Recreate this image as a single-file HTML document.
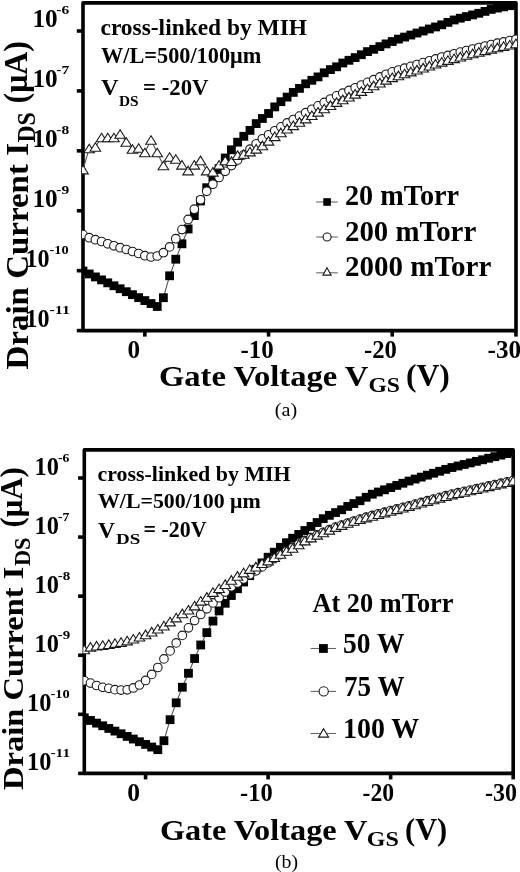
<!DOCTYPE html><html><head><meta charset="utf-8"><title>Drain current vs gate voltage</title><style>html,body{margin:0;padding:0;background:#fff;}svg{display:block;}</style></head><body><svg width="520" height="872" viewBox="0 0 520 872" font-family="'Liberation Serif','Times New Roman',serif"><defs><clipPath id="ca"><rect x="82.0" y="1.9" width="435.0" height="329.70000000000005"/></clipPath><clipPath id="cb"><rect x="83.3" y="448.9" width="430.90000000000003" height="325.5"/></clipPath></defs><rect width="520" height="872" fill="#fff"/><path d="M83 2.9H516V330.6H83Z" fill="none" stroke="#000" stroke-width="3.6" stroke-linejoin="round"/><line x1="76.8" y1="31" x2="83" y2="31" stroke="#000" stroke-width="3.6"/><line x1="76.8" y1="90.92" x2="83" y2="90.92" stroke="#000" stroke-width="3.6"/><line x1="76.8" y1="150.84" x2="83" y2="150.84" stroke="#000" stroke-width="3.6"/><line x1="76.8" y1="210.76" x2="83" y2="210.76" stroke="#000" stroke-width="3.6"/><line x1="76.8" y1="270.68" x2="83" y2="270.68" stroke="#000" stroke-width="3.6"/><line x1="76.8" y1="330.6" x2="83" y2="330.6" stroke="#000" stroke-width="3.6"/><line x1="144.85" y1="330.6" x2="144.85" y2="336.6" stroke="#000" stroke-width="3.6"/><line x1="268.55" y1="330.6" x2="268.55" y2="336.6" stroke="#000" stroke-width="3.6"/><line x1="392.25" y1="330.6" x2="392.25" y2="336.6" stroke="#000" stroke-width="3.6"/><line x1="515.95" y1="330.6" x2="515.95" y2="336.6" stroke="#000" stroke-width="3.6"/><g clip-path="url(#ca)"><polyline points="83,271 89.19,273.96 95.37,276.92 101.56,279.88 107.74,282.83 113.92,285.79 120.11,288.75 126.29,291.71 132.48,294.67 138.66,297.62 144.85,300.58 151.03,303.54 157.22,306.5 163.41,297.7 169.59,275.8 175.77,259.2 181.96,243.8 188.14,229 194.33,215.6 200.51,201 206.7,187.7 212.88,177.3 219.07,168.6 225.25,158 231.44,149.8 237.62,142.2 243.81,136.3 249.99,130.4 256.18,123.6 262.37,118.5 268.55,113.5 274.74,106.9 280.92,101.7 287.11,97.1 293.29,92.4 299.48,88.4 305.66,83.8 311.85,80.3 318.03,76.9 324.21,72.8 330.4,69.6 336.58,66.8 342.77,63 348.95,60.3 355.14,57.6 361.32,54.7 367.51,51.6 373.69,49.3 379.88,46.6 386.06,43.9 392.25,41.5 398.44,39.1 404.62,37.08 410.81,35.05 416.99,33.03 423.17,31 429.36,28.98 435.54,26.96 441.73,24.82 447.91,22.4 454.1,19.98 460.28,18.19 466.47,16.56 472.65,14.93 478.84,13.29 485.02,11.38 491.21,9.4 497.39,8.05 503.58,6.87 509.76,5.68 515.95,4.5" fill="none" stroke="#555" stroke-width="1.1"/><polyline points="83,234.6 89.19,237.7 95.37,239.7 101.56,241.5 107.74,243.8 113.92,245.8 120.11,247.7 126.29,249.5 132.48,251.5 138.66,253.5 144.85,255.7 151.03,257 157.22,256 163.41,252.7 169.59,246.9 175.77,238.7 181.96,229.6 188.14,219.4 194.33,209.2 200.51,199.8 206.7,191.3 212.88,184.2 219.07,177.5 225.25,171.3 231.44,165.6 237.62,160 243.81,154.8 249.99,149.2 256.18,143.8 262.37,138.8 268.55,134.8 274.74,130.77 280.92,126.84 287.11,122.96 293.29,119.53 299.48,116.11 305.66,112.68 311.85,109.26 318.03,105.84 324.21,102.41 330.4,98.99 336.58,95.86 342.77,93.16 348.95,90.46 355.14,87.75 361.32,85.05 367.51,82.34 373.69,79.64 379.88,76.93 386.06,74.23 392.25,71.84 398.44,70 404.62,68.17 410.81,66.33 416.99,64.5 423.17,62.62 429.36,60.75 435.54,58.88 441.73,57 447.91,55.38 454.1,53.75 460.28,52.12 466.47,50.5 472.65,49 478.84,47.5 485.02,46 491.21,44.5 497.39,43.2 503.58,41.9 509.76,40.6 515.95,39.3" fill="none" stroke="#555" stroke-width="1.1"/><polyline points="83,169.6 89.19,148.5 95.37,147 101.56,137.5 107.74,137.5 113.92,137.5 120.11,134 126.29,142 132.48,149 138.66,148 144.85,152.5 151.03,140 157.22,152.5 163.41,165.5 169.59,157 175.77,159 181.96,164.8 188.14,170.6 194.33,164.8 200.51,160.4 206.7,170.6 212.88,171.8 219.07,164.8 225.25,160.5 231.44,161.2 237.62,155.2 243.81,154 249.99,151.6 256.18,148.8 262.37,145.4 268.55,140.8 274.74,136.34 280.92,132.47 287.11,128.66 293.29,125.3 299.48,121.94 305.66,118.58 311.85,115.23 318.03,111.87 324.21,108.51 330.4,105.15 336.58,102.1 342.77,99.46 348.95,96.66 355.14,93.85 361.32,91.05 367.51,88.24 373.69,85.44 379.88,82.63 386.06,79.83 392.25,77.34 398.44,75.41 404.62,73.49 410.81,71.56 416.99,69.64 423.17,67.67 429.36,65.71 435.54,63.74 441.73,61.78 447.91,60.06 454.1,58.35 460.28,56.67 466.47,55 472.65,53.45 478.84,51.9 485.02,50.35 491.21,48.8 497.39,47.45 503.58,46.1 509.76,44.75 515.95,43.4" fill="none" stroke="#555" stroke-width="1.1"/><g fill="#000"><rect x="78.6" y="266.6" width="8.8" height="8.8"/><rect x="84.78" y="269.56" width="8.8" height="8.8"/><rect x="90.97" y="272.52" width="8.8" height="8.8"/><rect x="97.16" y="275.48" width="8.8" height="8.8"/><rect x="103.34" y="278.43" width="8.8" height="8.8"/><rect x="109.52" y="281.39" width="8.8" height="8.8"/><rect x="115.71" y="284.35" width="8.8" height="8.8"/><rect x="121.89" y="287.31" width="8.8" height="8.8"/><rect x="128.08" y="290.27" width="8.8" height="8.8"/><rect x="134.26" y="293.23" width="8.8" height="8.8"/><rect x="140.45" y="296.18" width="8.8" height="8.8"/><rect x="146.63" y="299.14" width="8.8" height="8.8"/><rect x="152.82" y="302.1" width="8.8" height="8.8"/><rect x="159" y="293.3" width="8.8" height="8.8"/><rect x="165.19" y="271.4" width="8.8" height="8.8"/><rect x="171.37" y="254.8" width="8.8" height="8.8"/><rect x="177.56" y="239.4" width="8.8" height="8.8"/><rect x="183.74" y="224.6" width="8.8" height="8.8"/><rect x="189.93" y="211.2" width="8.8" height="8.8"/><rect x="196.11" y="196.6" width="8.8" height="8.8"/><rect x="202.3" y="183.3" width="8.8" height="8.8"/><rect x="208.48" y="172.9" width="8.8" height="8.8"/><rect x="214.67" y="164.2" width="8.8" height="8.8"/><rect x="220.85" y="153.6" width="8.8" height="8.8"/><rect x="227.04" y="145.4" width="8.8" height="8.8"/><rect x="233.22" y="137.8" width="8.8" height="8.8"/><rect x="239.41" y="131.9" width="8.8" height="8.8"/><rect x="245.59" y="126" width="8.8" height="8.8"/><rect x="251.78" y="119.2" width="8.8" height="8.8"/><rect x="257.97" y="114.1" width="8.8" height="8.8"/><rect x="264.15" y="109.1" width="8.8" height="8.8"/><rect x="270.34" y="102.5" width="8.8" height="8.8"/><rect x="276.52" y="97.3" width="8.8" height="8.8"/><rect x="282.71" y="92.7" width="8.8" height="8.8"/><rect x="288.89" y="88" width="8.8" height="8.8"/><rect x="295.08" y="84" width="8.8" height="8.8"/><rect x="301.26" y="79.4" width="8.8" height="8.8"/><rect x="307.45" y="75.9" width="8.8" height="8.8"/><rect x="313.63" y="72.5" width="8.8" height="8.8"/><rect x="319.81" y="68.4" width="8.8" height="8.8"/><rect x="326" y="65.2" width="8.8" height="8.8"/><rect x="332.19" y="62.4" width="8.8" height="8.8"/><rect x="338.37" y="58.6" width="8.8" height="8.8"/><rect x="344.56" y="55.9" width="8.8" height="8.8"/><rect x="350.74" y="53.2" width="8.8" height="8.8"/><rect x="356.93" y="50.3" width="8.8" height="8.8"/><rect x="363.11" y="47.2" width="8.8" height="8.8"/><rect x="369.3" y="44.9" width="8.8" height="8.8"/><rect x="375.48" y="42.2" width="8.8" height="8.8"/><rect x="381.67" y="39.5" width="8.8" height="8.8"/><rect x="387.85" y="37.1" width="8.8" height="8.8"/><rect x="394.04" y="34.7" width="8.8" height="8.8"/><rect x="400.22" y="32.68" width="8.8" height="8.8"/><rect x="406.41" y="30.65" width="8.8" height="8.8"/><rect x="412.59" y="28.63" width="8.8" height="8.8"/><rect x="418.77" y="26.6" width="8.8" height="8.8"/><rect x="424.96" y="24.58" width="8.8" height="8.8"/><rect x="431.14" y="22.56" width="8.8" height="8.8"/><rect x="437.33" y="20.42" width="8.8" height="8.8"/><rect x="443.51" y="18" width="8.8" height="8.8"/><rect x="449.7" y="15.58" width="8.8" height="8.8"/><rect x="455.88" y="13.79" width="8.8" height="8.8"/><rect x="462.07" y="12.16" width="8.8" height="8.8"/><rect x="468.25" y="10.53" width="8.8" height="8.8"/><rect x="474.44" y="8.89" width="8.8" height="8.8"/><rect x="480.62" y="6.98" width="8.8" height="8.8"/><rect x="486.81" y="5" width="8.8" height="8.8"/><rect x="493" y="3.65" width="8.8" height="8.8"/><rect x="499.18" y="2.47" width="8.8" height="8.8"/><rect x="505.37" y="1.28" width="8.8" height="8.8"/><rect x="511.55" y="0.1" width="8.8" height="8.8"/></g><g fill="#fff" stroke="#1a1a1a" stroke-width="1.1"><circle cx="83" cy="234.6" r="4.3"/><circle cx="89.19" cy="237.7" r="4.3"/><circle cx="95.37" cy="239.7" r="4.3"/><circle cx="101.56" cy="241.5" r="4.3"/><circle cx="107.74" cy="243.8" r="4.3"/><circle cx="113.92" cy="245.8" r="4.3"/><circle cx="120.11" cy="247.7" r="4.3"/><circle cx="126.29" cy="249.5" r="4.3"/><circle cx="132.48" cy="251.5" r="4.3"/><circle cx="138.66" cy="253.5" r="4.3"/><circle cx="144.85" cy="255.7" r="4.3"/><circle cx="151.03" cy="257" r="4.3"/><circle cx="157.22" cy="256" r="4.3"/><circle cx="163.41" cy="252.7" r="4.3"/><circle cx="169.59" cy="246.9" r="4.3"/><circle cx="175.77" cy="238.7" r="4.3"/><circle cx="181.96" cy="229.6" r="4.3"/><circle cx="188.14" cy="219.4" r="4.3"/><circle cx="194.33" cy="209.2" r="4.3"/><circle cx="200.51" cy="199.8" r="4.3"/><circle cx="206.7" cy="191.3" r="4.3"/><circle cx="212.88" cy="184.2" r="4.3"/><circle cx="219.07" cy="177.5" r="4.3"/><circle cx="225.25" cy="171.3" r="4.3"/><circle cx="231.44" cy="165.6" r="4.3"/><circle cx="237.62" cy="160" r="4.3"/><circle cx="243.81" cy="154.8" r="4.3"/><circle cx="249.99" cy="149.2" r="4.3"/><circle cx="256.18" cy="143.8" r="4.3"/><circle cx="262.37" cy="138.8" r="4.3"/><circle cx="268.55" cy="134.8" r="4.3"/><circle cx="274.74" cy="130.77" r="4.3"/><circle cx="280.92" cy="126.84" r="4.3"/><circle cx="287.11" cy="122.96" r="4.3"/><circle cx="293.29" cy="119.53" r="4.3"/><circle cx="299.48" cy="116.11" r="4.3"/><circle cx="305.66" cy="112.68" r="4.3"/><circle cx="311.85" cy="109.26" r="4.3"/><circle cx="318.03" cy="105.84" r="4.3"/><circle cx="324.21" cy="102.41" r="4.3"/><circle cx="330.4" cy="98.99" r="4.3"/><circle cx="336.58" cy="95.86" r="4.3"/><circle cx="342.77" cy="93.16" r="4.3"/><circle cx="348.95" cy="90.46" r="4.3"/><circle cx="355.14" cy="87.75" r="4.3"/><circle cx="361.32" cy="85.05" r="4.3"/><circle cx="367.51" cy="82.34" r="4.3"/><circle cx="373.69" cy="79.64" r="4.3"/><circle cx="379.88" cy="76.93" r="4.3"/><circle cx="386.06" cy="74.23" r="4.3"/><circle cx="392.25" cy="71.84" r="4.3"/><circle cx="398.44" cy="70" r="4.3"/><circle cx="404.62" cy="68.17" r="4.3"/><circle cx="410.81" cy="66.33" r="4.3"/><circle cx="416.99" cy="64.5" r="4.3"/><circle cx="423.17" cy="62.62" r="4.3"/><circle cx="429.36" cy="60.75" r="4.3"/><circle cx="435.54" cy="58.88" r="4.3"/><circle cx="441.73" cy="57" r="4.3"/><circle cx="447.91" cy="55.38" r="4.3"/><circle cx="454.1" cy="53.75" r="4.3"/><circle cx="460.28" cy="52.12" r="4.3"/><circle cx="466.47" cy="50.5" r="4.3"/><circle cx="472.65" cy="49" r="4.3"/><circle cx="478.84" cy="47.5" r="4.3"/><circle cx="485.02" cy="46" r="4.3"/><circle cx="491.21" cy="44.5" r="4.3"/><circle cx="497.39" cy="43.2" r="4.3"/><circle cx="503.58" cy="41.9" r="4.3"/><circle cx="509.76" cy="40.6" r="4.3"/><circle cx="515.95" cy="39.3" r="4.3"/></g><g fill="#fff" stroke="#1a1a1a" stroke-width="1.1" stroke-linejoin="miter"><path d="M83 165.3L88.3 173.9L77.7 173.9Z"/><path d="M89.19 144.2L94.48 152.8L83.89 152.8Z"/><path d="M95.37 142.7L100.67 151.3L90.07 151.3Z"/><path d="M101.56 133.2L106.86 141.8L96.26 141.8Z"/><path d="M107.74 133.2L113.04 141.8L102.44 141.8Z"/><path d="M113.92 133.2L119.22 141.8L108.62 141.8Z"/><path d="M120.11 129.7L125.41 138.3L114.81 138.3Z"/><path d="M126.29 137.7L131.59 146.3L120.99 146.3Z"/><path d="M132.48 144.7L137.78 153.3L127.18 153.3Z"/><path d="M138.66 143.7L143.97 152.3L133.36 152.3Z"/><path d="M144.85 148.2L150.15 156.8L139.55 156.8Z"/><path d="M151.03 135.7L156.34 144.3L145.73 144.3Z"/><path d="M157.22 148.2L162.52 156.8L151.92 156.8Z"/><path d="M163.41 161.2L168.71 169.8L158.1 169.8Z"/><path d="M169.59 152.7L174.89 161.3L164.29 161.3Z"/><path d="M175.77 154.7L181.07 163.3L170.47 163.3Z"/><path d="M181.96 160.5L187.26 169.1L176.66 169.1Z"/><path d="M188.14 166.3L193.44 174.9L182.84 174.9Z"/><path d="M194.33 160.5L199.63 169.1L189.03 169.1Z"/><path d="M200.51 156.1L205.81 164.7L195.21 164.7Z"/><path d="M206.7 166.3L212 174.9L201.4 174.9Z"/><path d="M212.88 167.5L218.19 176.1L207.58 176.1Z"/><path d="M219.07 160.5L224.37 169.1L213.77 169.1Z"/><path d="M225.25 156.2L230.56 164.8L219.95 164.8Z"/><path d="M231.44 156.9L236.74 165.5L226.14 165.5Z"/><path d="M237.62 150.9L242.93 159.5L232.32 159.5Z"/><path d="M243.81 149.7L249.11 158.3L238.51 158.3Z"/><path d="M249.99 147.3L255.29 155.9L244.69 155.9Z"/><path d="M256.18 144.5L261.48 153.1L250.88 153.1Z"/><path d="M262.37 141.1L267.67 149.7L257.06 149.7Z"/><path d="M268.55 136.5L273.85 145.1L263.25 145.1Z"/><path d="M274.74 132.04L280.04 140.64L269.44 140.64Z"/><path d="M280.92 128.17L286.22 136.77L275.62 136.77Z"/><path d="M287.11 124.36L292.41 132.96L281.81 132.96Z"/><path d="M293.29 121L298.59 129.6L287.99 129.6Z"/><path d="M299.48 117.64L304.78 126.24L294.18 126.24Z"/><path d="M305.66 114.28L310.96 122.88L300.36 122.88Z"/><path d="M311.85 110.93L317.15 119.53L306.55 119.53Z"/><path d="M318.03 107.57L323.33 116.17L312.73 116.17Z"/><path d="M324.21 104.21L329.51 112.81L318.91 112.81Z"/><path d="M330.4 100.85L335.7 109.45L325.1 109.45Z"/><path d="M336.58 97.8L341.88 106.4L331.28 106.4Z"/><path d="M342.77 95.16L348.07 103.76L337.47 103.76Z"/><path d="M348.95 92.36L354.25 100.96L343.65 100.96Z"/><path d="M355.14 89.55L360.44 98.15L349.84 98.15Z"/><path d="M361.32 86.75L366.62 95.35L356.02 95.35Z"/><path d="M367.51 83.94L372.81 92.54L362.21 92.54Z"/><path d="M373.69 81.14L379 89.74L368.39 89.74Z"/><path d="M379.88 78.33L385.18 86.93L374.58 86.93Z"/><path d="M386.06 75.53L391.37 84.13L380.76 84.13Z"/><path d="M392.25 73.04L397.55 81.64L386.95 81.64Z"/><path d="M398.44 71.11L403.74 79.71L393.13 79.71Z"/><path d="M404.62 69.19L409.92 77.79L399.32 77.79Z"/><path d="M410.81 67.26L416.11 75.86L405.5 75.86Z"/><path d="M416.99 65.34L422.29 73.94L411.69 73.94Z"/><path d="M423.17 63.38L428.47 71.97L417.87 71.97Z"/><path d="M429.36 61.41L434.66 70.01L424.06 70.01Z"/><path d="M435.54 59.45L440.84 68.05L430.24 68.05Z"/><path d="M441.73 57.48L447.03 66.08L436.43 66.08Z"/><path d="M447.91 55.77L453.21 64.36L442.61 64.36Z"/><path d="M454.1 54.05L459.4 62.65L448.8 62.65Z"/><path d="M460.28 52.38L465.58 60.97L454.98 60.97Z"/><path d="M466.47 50.7L471.77 59.3L461.17 59.3Z"/><path d="M472.65 49.15L477.95 57.75L467.35 57.75Z"/><path d="M478.84 47.6L484.14 56.2L473.54 56.2Z"/><path d="M485.02 46.05L490.32 54.65L479.72 54.65Z"/><path d="M491.21 44.5L496.51 53.1L485.91 53.1Z"/><path d="M497.39 43.15L502.69 51.75L492.09 51.75Z"/><path d="M503.58 41.8L508.88 50.4L498.28 50.4Z"/><path d="M509.76 40.45L515.06 49.05L504.46 49.05Z"/><path d="M515.95 39.1L521.25 47.7L510.65 47.7Z"/></g></g><line x1="316.2" y1="202" x2="337.8" y2="202" stroke="#666" stroke-width="1.1"/><rect x="323.3" y="198.2" width="7.6" height="7.6" fill="#000"/><line x1="316.2" y1="237" x2="337.8" y2="237" stroke="#666" stroke-width="1.1"/><circle cx="327.1" cy="237" r="4" fill="#fff" stroke="#1a1a1a" stroke-width="1.1"/><line x1="316.2" y1="272.8" x2="337.8" y2="272.8" stroke="#666" stroke-width="1.1"/><path d="M327 267.65L331.1 275.15L322.9 275.15Z" fill="#fff" stroke="#1a1a1a" stroke-width="1.1"/><path d="M84.3 449.9H513.2V773.4H84.3Z" fill="none" stroke="#000" stroke-width="3.6" stroke-linejoin="round"/><line x1="78.1" y1="478" x2="84.3" y2="478" stroke="#000" stroke-width="3.6"/><line x1="78.1" y1="537.08" x2="84.3" y2="537.08" stroke="#000" stroke-width="3.6"/><line x1="78.1" y1="596.16" x2="84.3" y2="596.16" stroke="#000" stroke-width="3.6"/><line x1="78.1" y1="655.24" x2="84.3" y2="655.24" stroke="#000" stroke-width="3.6"/><line x1="78.1" y1="714.32" x2="84.3" y2="714.32" stroke="#000" stroke-width="3.6"/><line x1="78.1" y1="773.4" x2="84.3" y2="773.4" stroke="#000" stroke-width="3.6"/><line x1="145.57" y1="773.4" x2="145.57" y2="779.4" stroke="#000" stroke-width="3.6"/><line x1="268.11" y1="773.4" x2="268.11" y2="779.4" stroke="#000" stroke-width="3.6"/><line x1="390.65" y1="773.4" x2="390.65" y2="779.4" stroke="#000" stroke-width="3.6"/><line x1="513.19" y1="773.4" x2="513.19" y2="779.4" stroke="#000" stroke-width="3.6"/><g clip-path="url(#cb)"><polyline points="84.3,717.8 90.43,720.46 96.55,723.12 102.68,725.78 108.81,728.44 114.94,731.1 121.06,733.76 127.19,736.41 133.32,739.07 139.44,741.73 145.57,744.39 151.7,747.05 157.82,749.67 163.95,740.72 170.08,719.68 176.2,702.79 182.33,687.23 188.46,673.26 194.59,658.53 200.71,644.97 206.84,632.62 212.97,621.09 219.09,610.88 225.22,603.27 231.35,595.55 237.47,588.72 243.6,581.99 249.73,575.63 255.86,569.27 261.98,562.92 268.11,557.22 274.24,552.21 280.36,547.3 286.49,542.69 292.62,538.22 298.75,534.45 304.87,530.52 311,526.45 317.13,522.53 323.25,518.66 329.38,515.31 335.51,512.59 341.63,509.77 347.76,506.45 353.89,503.57 360.01,500.75 366.14,497.27 372.27,494.19 378.4,492 384.52,489.81 390.65,487.62 396.78,485.43 402.9,483.24 409.03,481.05 415.16,479.06 421.29,477.12 427.41,475.17 433.54,473.23 439.67,471.28 445.79,469.34 451.92,467.52 458.05,465.99 464.17,464.46 470.3,462.91 476.43,461.35 482.56,459.79 488.68,458.23 494.81,456.68 500.94,455.12 507.06,453.56 513.19,452" fill="none" stroke="#555" stroke-width="1.1"/><polyline points="84.3,680.8 90.43,683.11 96.55,685.51 102.68,687.34 108.81,688.34 114.94,689.66 121.06,690.1 127.19,689.83 133.32,687.95 139.44,685.02 145.57,680.46 151.7,674.44 157.82,667.5 163.95,658.91 170.08,650.88 176.2,642.93 182.33,635.39 188.46,627.81 194.59,620.61 200.71,614.51 206.84,608.86 212.97,602.91 219.09,597.77 225.22,592.09 231.35,586.71 237.47,582.89 243.6,578.95 249.73,574.71 255.86,570.86 261.98,566.92 268.11,562.74 274.24,558.57 280.36,554.64 286.49,551.11 292.62,547.57 298.75,544.04 304.87,540.61 311,537.55 317.13,534.89 323.25,532.26 329.38,529.64 335.51,527.1 341.63,525.07 347.76,523.03 353.89,521 360.01,519.08 366.14,517.19 372.27,515.4 378.4,513.8 384.52,512.19 390.65,510.58 396.78,508.97 402.9,507.36 409.03,505.75 415.16,504.08 421.29,502.4 427.41,500.71 433.54,499.03 439.67,497.34 445.79,495.66 451.92,494.07 458.05,492.72 464.17,491.36 470.3,490 476.43,488.65 482.56,487.29 488.68,485.93 494.81,484.57 500.94,483.22 507.06,481.86 513.19,480.5" fill="none" stroke="#555" stroke-width="1.1"/><polyline points="84.3,649.4 90.43,646.84 96.55,645.69 102.68,645.04 108.81,644.16 114.94,643.08 121.06,642.03 127.19,640.61 133.32,638.77 139.44,636.74 145.57,634.39 151.7,631.71 157.82,628.76 163.95,625.63 170.08,621.58 176.2,617.56 182.33,613.42 188.46,609.76 194.59,605.58 200.71,600.86 206.84,596.96 212.97,592.05 219.09,588.27 225.22,584.15 231.35,579.9 237.47,575.9 243.6,572.54 249.73,569.05 255.86,566.67 261.98,563.27 268.11,560.58 274.24,557.16 280.36,554.01 286.49,550.96 292.62,548.01 298.75,544.49 304.87,540.61 311,537.55 317.13,534.87 323.25,532.39 329.38,529.84 335.51,527.1 341.63,525.06 347.76,523.01 353.89,521 360.01,519.24 366.14,517.56 372.27,515.89 378.4,514.25 384.52,512.62 390.65,510.98 396.78,509.34 402.9,507.7 409.03,506.06 415.16,504.41 421.29,502.75 427.41,501.1 433.54,499.44 439.67,497.79 445.79,496.14 451.92,494.58 458.05,493.24 464.17,491.9 470.3,490.52 476.43,489.14 482.56,487.75 488.68,486.36 494.81,484.97 500.94,483.58 507.06,482.19 513.19,480.8" fill="none" stroke="#555" stroke-width="1.1"/><g fill="#000"><rect x="79.9" y="713.4" width="8.8" height="8.8"/><rect x="86.03" y="716.06" width="8.8" height="8.8"/><rect x="92.15" y="718.72" width="8.8" height="8.8"/><rect x="98.28" y="721.38" width="8.8" height="8.8"/><rect x="104.41" y="724.04" width="8.8" height="8.8"/><rect x="110.53" y="726.7" width="8.8" height="8.8"/><rect x="116.66" y="729.36" width="8.8" height="8.8"/><rect x="122.79" y="732.01" width="8.8" height="8.8"/><rect x="128.92" y="734.67" width="8.8" height="8.8"/><rect x="135.04" y="737.33" width="8.8" height="8.8"/><rect x="141.17" y="739.99" width="8.8" height="8.8"/><rect x="147.3" y="742.65" width="8.8" height="8.8"/><rect x="153.42" y="745.27" width="8.8" height="8.8"/><rect x="159.55" y="736.32" width="8.8" height="8.8"/><rect x="165.68" y="715.28" width="8.8" height="8.8"/><rect x="171.8" y="698.39" width="8.8" height="8.8"/><rect x="177.93" y="682.83" width="8.8" height="8.8"/><rect x="184.06" y="668.86" width="8.8" height="8.8"/><rect x="190.19" y="654.13" width="8.8" height="8.8"/><rect x="196.31" y="640.57" width="8.8" height="8.8"/><rect x="202.44" y="628.22" width="8.8" height="8.8"/><rect x="208.57" y="616.69" width="8.8" height="8.8"/><rect x="214.69" y="606.48" width="8.8" height="8.8"/><rect x="220.82" y="598.87" width="8.8" height="8.8"/><rect x="226.95" y="591.15" width="8.8" height="8.8"/><rect x="233.07" y="584.32" width="8.8" height="8.8"/><rect x="239.2" y="577.59" width="8.8" height="8.8"/><rect x="245.33" y="571.23" width="8.8" height="8.8"/><rect x="251.46" y="564.87" width="8.8" height="8.8"/><rect x="257.58" y="558.52" width="8.8" height="8.8"/><rect x="263.71" y="552.82" width="8.8" height="8.8"/><rect x="269.84" y="547.81" width="8.8" height="8.8"/><rect x="275.96" y="542.9" width="8.8" height="8.8"/><rect x="282.09" y="538.29" width="8.8" height="8.8"/><rect x="288.22" y="533.82" width="8.8" height="8.8"/><rect x="294.35" y="530.05" width="8.8" height="8.8"/><rect x="300.47" y="526.12" width="8.8" height="8.8"/><rect x="306.6" y="522.05" width="8.8" height="8.8"/><rect x="312.73" y="518.13" width="8.8" height="8.8"/><rect x="318.85" y="514.26" width="8.8" height="8.8"/><rect x="324.98" y="510.91" width="8.8" height="8.8"/><rect x="331.11" y="508.19" width="8.8" height="8.8"/><rect x="337.23" y="505.37" width="8.8" height="8.8"/><rect x="343.36" y="502.05" width="8.8" height="8.8"/><rect x="349.49" y="499.17" width="8.8" height="8.8"/><rect x="355.62" y="496.35" width="8.8" height="8.8"/><rect x="361.74" y="492.87" width="8.8" height="8.8"/><rect x="367.87" y="489.79" width="8.8" height="8.8"/><rect x="374" y="487.6" width="8.8" height="8.8"/><rect x="380.12" y="485.41" width="8.8" height="8.8"/><rect x="386.25" y="483.22" width="8.8" height="8.8"/><rect x="392.38" y="481.03" width="8.8" height="8.8"/><rect x="398.5" y="478.84" width="8.8" height="8.8"/><rect x="404.63" y="476.65" width="8.8" height="8.8"/><rect x="410.76" y="474.66" width="8.8" height="8.8"/><rect x="416.89" y="472.72" width="8.8" height="8.8"/><rect x="423.01" y="470.77" width="8.8" height="8.8"/><rect x="429.14" y="468.83" width="8.8" height="8.8"/><rect x="435.27" y="466.88" width="8.8" height="8.8"/><rect x="441.39" y="464.94" width="8.8" height="8.8"/><rect x="447.52" y="463.12" width="8.8" height="8.8"/><rect x="453.65" y="461.59" width="8.8" height="8.8"/><rect x="459.77" y="460.06" width="8.8" height="8.8"/><rect x="465.9" y="458.51" width="8.8" height="8.8"/><rect x="472.03" y="456.95" width="8.8" height="8.8"/><rect x="478.16" y="455.39" width="8.8" height="8.8"/><rect x="484.28" y="453.83" width="8.8" height="8.8"/><rect x="490.41" y="452.28" width="8.8" height="8.8"/><rect x="496.54" y="450.72" width="8.8" height="8.8"/><rect x="502.66" y="449.16" width="8.8" height="8.8"/><rect x="508.79" y="447.6" width="8.8" height="8.8"/></g><g fill="#fff" stroke="#1a1a1a" stroke-width="1.1"><circle cx="84.3" cy="680.8" r="4.3"/><circle cx="90.43" cy="683.11" r="4.3"/><circle cx="96.55" cy="685.51" r="4.3"/><circle cx="102.68" cy="687.34" r="4.3"/><circle cx="108.81" cy="688.34" r="4.3"/><circle cx="114.94" cy="689.66" r="4.3"/><circle cx="121.06" cy="690.1" r="4.3"/><circle cx="127.19" cy="689.83" r="4.3"/><circle cx="133.32" cy="687.95" r="4.3"/><circle cx="139.44" cy="685.02" r="4.3"/><circle cx="145.57" cy="680.46" r="4.3"/><circle cx="151.7" cy="674.44" r="4.3"/><circle cx="157.82" cy="667.5" r="4.3"/><circle cx="163.95" cy="658.91" r="4.3"/><circle cx="170.08" cy="650.88" r="4.3"/><circle cx="176.2" cy="642.93" r="4.3"/><circle cx="182.33" cy="635.39" r="4.3"/><circle cx="188.46" cy="627.81" r="4.3"/><circle cx="194.59" cy="620.61" r="4.3"/><circle cx="200.71" cy="614.51" r="4.3"/><circle cx="206.84" cy="608.86" r="4.3"/><circle cx="212.97" cy="602.91" r="4.3"/><circle cx="219.09" cy="597.77" r="4.3"/><circle cx="225.22" cy="592.09" r="4.3"/><circle cx="231.35" cy="586.71" r="4.3"/><circle cx="237.47" cy="582.89" r="4.3"/><circle cx="243.6" cy="578.95" r="4.3"/><circle cx="249.73" cy="574.71" r="4.3"/><circle cx="255.86" cy="570.86" r="4.3"/><circle cx="261.98" cy="566.92" r="4.3"/><circle cx="268.11" cy="562.74" r="4.3"/><circle cx="274.24" cy="558.57" r="4.3"/><circle cx="280.36" cy="554.64" r="4.3"/><circle cx="286.49" cy="551.11" r="4.3"/><circle cx="292.62" cy="547.57" r="4.3"/><circle cx="298.75" cy="544.04" r="4.3"/><circle cx="304.87" cy="540.61" r="4.3"/><circle cx="311" cy="537.55" r="4.3"/><circle cx="317.13" cy="534.89" r="4.3"/><circle cx="323.25" cy="532.26" r="4.3"/><circle cx="329.38" cy="529.64" r="4.3"/><circle cx="335.51" cy="527.1" r="4.3"/><circle cx="341.63" cy="525.07" r="4.3"/><circle cx="347.76" cy="523.03" r="4.3"/><circle cx="353.89" cy="521" r="4.3"/><circle cx="360.01" cy="519.08" r="4.3"/><circle cx="366.14" cy="517.19" r="4.3"/><circle cx="372.27" cy="515.4" r="4.3"/><circle cx="378.4" cy="513.8" r="4.3"/><circle cx="384.52" cy="512.19" r="4.3"/><circle cx="390.65" cy="510.58" r="4.3"/><circle cx="396.78" cy="508.97" r="4.3"/><circle cx="402.9" cy="507.36" r="4.3"/><circle cx="409.03" cy="505.75" r="4.3"/><circle cx="415.16" cy="504.08" r="4.3"/><circle cx="421.29" cy="502.4" r="4.3"/><circle cx="427.41" cy="500.71" r="4.3"/><circle cx="433.54" cy="499.03" r="4.3"/><circle cx="439.67" cy="497.34" r="4.3"/><circle cx="445.79" cy="495.66" r="4.3"/><circle cx="451.92" cy="494.07" r="4.3"/><circle cx="458.05" cy="492.72" r="4.3"/><circle cx="464.17" cy="491.36" r="4.3"/><circle cx="470.3" cy="490" r="4.3"/><circle cx="476.43" cy="488.65" r="4.3"/><circle cx="482.56" cy="487.29" r="4.3"/><circle cx="488.68" cy="485.93" r="4.3"/><circle cx="494.81" cy="484.57" r="4.3"/><circle cx="500.94" cy="483.22" r="4.3"/><circle cx="507.06" cy="481.86" r="4.3"/><circle cx="513.19" cy="480.5" r="4.3"/></g><g fill="#fff" stroke="#1a1a1a" stroke-width="1.1" stroke-linejoin="miter"><path d="M84.3 645.1L89.6 653.7L79 653.7Z"/><path d="M90.43 642.54L95.73 651.14L85.13 651.14Z"/><path d="M96.55 641.39L101.85 649.99L91.25 649.99Z"/><path d="M102.68 640.74L107.98 649.34L97.38 649.34Z"/><path d="M108.81 639.86L114.11 648.46L103.51 648.46Z"/><path d="M114.94 638.78L120.23 647.38L109.64 647.38Z"/><path d="M121.06 637.73L126.36 646.33L115.76 646.33Z"/><path d="M127.19 636.31L132.49 644.91L121.89 644.91Z"/><path d="M133.32 634.47L138.62 643.07L128.02 643.07Z"/><path d="M139.44 632.44L144.74 641.04L134.14 641.04Z"/><path d="M145.57 630.09L150.87 638.69L140.27 638.69Z"/><path d="M151.7 627.41L157 636.01L146.4 636.01Z"/><path d="M157.82 624.46L163.12 633.06L152.52 633.06Z"/><path d="M163.95 621.33L169.25 629.93L158.65 629.93Z"/><path d="M170.08 617.28L175.38 625.88L164.78 625.88Z"/><path d="M176.2 613.26L181.5 621.86L170.9 621.86Z"/><path d="M182.33 609.12L187.63 617.72L177.03 617.72Z"/><path d="M188.46 605.46L193.76 614.06L183.16 614.06Z"/><path d="M194.59 601.28L199.89 609.88L189.29 609.88Z"/><path d="M200.71 596.56L206.01 605.16L195.41 605.16Z"/><path d="M206.84 592.66L212.14 601.26L201.54 601.26Z"/><path d="M212.97 587.75L218.27 596.35L207.67 596.35Z"/><path d="M219.09 583.97L224.39 592.57L213.79 592.57Z"/><path d="M225.22 579.85L230.52 588.45L219.92 588.45Z"/><path d="M231.35 575.6L236.65 584.2L226.05 584.2Z"/><path d="M237.47 571.6L242.77 580.2L232.17 580.2Z"/><path d="M243.6 568.24L248.9 576.84L238.3 576.84Z"/><path d="M249.73 564.75L255.03 573.35L244.43 573.35Z"/><path d="M255.86 562.37L261.16 570.97L250.56 570.97Z"/><path d="M261.98 558.97L267.28 567.57L256.68 567.57Z"/><path d="M268.11 556.28L273.41 564.88L262.81 564.88Z"/><path d="M274.24 552.86L279.54 561.46L268.94 561.46Z"/><path d="M280.36 549.71L285.66 558.31L275.06 558.31Z"/><path d="M286.49 546.66L291.79 555.26L281.19 555.26Z"/><path d="M292.62 543.71L297.92 552.31L287.32 552.31Z"/><path d="M298.75 540.19L304.05 548.79L293.44 548.79Z"/><path d="M304.87 536.31L310.17 544.91L299.57 544.91Z"/><path d="M311 533.25L316.3 541.85L305.7 541.85Z"/><path d="M317.13 530.57L322.43 539.17L311.83 539.17Z"/><path d="M323.25 528.09L328.55 536.69L317.95 536.69Z"/><path d="M329.38 525.54L334.68 534.14L324.08 534.14Z"/><path d="M335.51 522.8L340.81 531.4L330.21 531.4Z"/><path d="M341.63 520.76L346.93 529.36L336.33 529.36Z"/><path d="M347.76 518.71L353.06 527.31L342.46 527.31Z"/><path d="M353.89 516.7L359.19 525.3L348.59 525.3Z"/><path d="M360.01 514.94L365.31 523.54L354.71 523.54Z"/><path d="M366.14 513.26L371.44 521.86L360.84 521.86Z"/><path d="M372.27 511.59L377.57 520.19L366.97 520.19Z"/><path d="M378.4 509.95L383.7 518.55L373.1 518.55Z"/><path d="M384.52 508.32L389.82 516.92L379.22 516.92Z"/><path d="M390.65 506.68L395.95 515.28L385.35 515.28Z"/><path d="M396.78 505.04L402.08 513.64L391.48 513.64Z"/><path d="M402.9 503.4L408.2 512L397.6 512Z"/><path d="M409.03 501.76L414.33 510.36L403.73 510.36Z"/><path d="M415.16 500.11L420.46 508.71L409.86 508.71Z"/><path d="M421.29 498.45L426.59 507.05L415.99 507.05Z"/><path d="M427.41 496.8L432.71 505.4L422.11 505.4Z"/><path d="M433.54 495.14L438.84 503.74L428.24 503.74Z"/><path d="M439.67 493.49L444.97 502.09L434.37 502.09Z"/><path d="M445.79 491.84L451.09 500.44L440.49 500.44Z"/><path d="M451.92 490.28L457.22 498.88L446.62 498.88Z"/><path d="M458.05 488.94L463.35 497.54L452.75 497.54Z"/><path d="M464.17 487.6L469.47 496.2L458.87 496.2Z"/><path d="M470.3 486.22L475.6 494.82L465 494.82Z"/><path d="M476.43 484.84L481.73 493.44L471.13 493.44Z"/><path d="M482.56 483.45L487.86 492.05L477.25 492.05Z"/><path d="M488.68 482.06L493.98 490.66L483.38 490.66Z"/><path d="M494.81 480.67L500.11 489.27L489.51 489.27Z"/><path d="M500.94 479.28L506.24 487.88L495.64 487.88Z"/><path d="M507.06 477.89L512.36 486.49L501.76 486.49Z"/><path d="M513.19 476.5L518.49 485.1L507.89 485.1Z"/></g></g><line x1="310.6" y1="648.5" x2="336" y2="648.5" stroke="#666" stroke-width="1.1"/><rect x="319" y="644.1" width="8.8" height="8.8" fill="#000"/><line x1="310.6" y1="691.4" x2="336" y2="691.4" stroke="#666" stroke-width="1.1"/><circle cx="323.7" cy="691.4" r="4.6" fill="#fff" stroke="#1a1a1a" stroke-width="1.1"/><line x1="310.6" y1="733.5" x2="336" y2="733.5" stroke="#666" stroke-width="1.1"/><path d="M323.6 728.7L328.6 737.1L318.6 737.1Z" fill="#fff" stroke="#1a1a1a" stroke-width="1.1"/><g font-weight="bold"><text x="100.49" y="34.60" font-size="23.00" textLength="206.60" lengthAdjust="spacingAndGlyphs">cross-linked by MIH</text><text x="101.02" y="62.80" font-size="23.00" textLength="160.20" lengthAdjust="spacingAndGlyphs">W/L=500/100μm</text><text x="100.97" y="94.90" font-size="24.00" textLength="17.58" lengthAdjust="spacingAndGlyphs">V</text><text x="118.99" y="105.70" font-size="15.50" textLength="19.64" lengthAdjust="spacingAndGlyphs">DS</text><text x="143.05" y="94.90" font-size="23.50" textLength="65.52" lengthAdjust="spacingAndGlyphs">= -20V</text><text x="345.03" y="205.40" font-size="29.00" textLength="114.11" lengthAdjust="spacingAndGlyphs">20 mTorr</text><text x="345.00" y="240.60" font-size="29.00" textLength="131.24" lengthAdjust="spacingAndGlyphs">200 mTorr</text><text x="344.99" y="275.70" font-size="29.00" textLength="146.35" lengthAdjust="spacingAndGlyphs">2000 mTorr</text><text x="32.47" y="27.30" font-size="25.00" textLength="25.25" lengthAdjust="spacingAndGlyphs">10</text><text x="56.37" y="14.00" font-size="13.50" textLength="12.94" lengthAdjust="spacingAndGlyphs">-6</text><text x="32.47" y="87.22" font-size="25.00" textLength="25.25" lengthAdjust="spacingAndGlyphs">10</text><text x="56.37" y="73.92" font-size="13.50" textLength="12.94" lengthAdjust="spacingAndGlyphs">-7</text><text x="32.47" y="147.14" font-size="25.00" textLength="25.25" lengthAdjust="spacingAndGlyphs">10</text><text x="56.37" y="133.84" font-size="13.50" textLength="12.94" lengthAdjust="spacingAndGlyphs">-8</text><text x="32.47" y="207.06" font-size="25.00" textLength="25.25" lengthAdjust="spacingAndGlyphs">10</text><text x="56.37" y="193.76" font-size="13.50" textLength="12.94" lengthAdjust="spacingAndGlyphs">-9</text><text x="25.56" y="266.98" font-size="25.00" textLength="24.10" lengthAdjust="spacingAndGlyphs">10</text><text x="49.52" y="253.68" font-size="13.50" textLength="19.09" lengthAdjust="spacingAndGlyphs">-10</text><text x="25.56" y="326.90" font-size="25.00" textLength="24.10" lengthAdjust="spacingAndGlyphs">10</text><text x="49.50" y="313.60" font-size="13.50" textLength="20.53" lengthAdjust="spacingAndGlyphs">-11</text><text x="127.52" y="358.40" font-size="25.50" textLength="12.56" lengthAdjust="spacingAndGlyphs">0</text><text x="240.48" y="358.40" font-size="25.50" textLength="33.23" lengthAdjust="spacingAndGlyphs">-10</text><text x="364.04" y="358.40" font-size="25.50" textLength="32.94" lengthAdjust="spacingAndGlyphs">-20</text><text x="487.60" y="358.40" font-size="25.50" textLength="33.60" lengthAdjust="spacingAndGlyphs">-30</text><text x="158.94" y="385.80" font-size="29.88" textLength="209.47" lengthAdjust="spacingAndGlyphs">Gate Voltage V</text><text x="368.42" y="391.70" font-size="21.50" textLength="31.49" lengthAdjust="spacingAndGlyphs">GS</text><text x="405.95" y="385.78" font-size="31.98" textLength="43.95" lengthAdjust="spacingAndGlyphs">(V)</text><text x="274.89" y="415.60" font-size="18.07" font-weight="normal" textLength="22.30" lengthAdjust="spacingAndGlyphs">(a)</text><text transform="translate(28.00,369.50) rotate(-90)" font-size="31.69" textLength="226.52" lengthAdjust="spacingAndGlyphs">Drain Current I</text><text transform="translate(35.30,142.50) rotate(-90)" font-size="24.78" textLength="30.28" lengthAdjust="spacingAndGlyphs">DS</text><text transform="translate(26.96,103.46) rotate(-90)" font-size="33.19" textLength="62.46" lengthAdjust="spacingAndGlyphs">(μA)</text><text x="97.49" y="481.00" font-size="21.50" textLength="193.16" lengthAdjust="spacingAndGlyphs">cross-linked by MIH</text><text x="97.99" y="508.00" font-size="21.50" textLength="162.64" lengthAdjust="spacingAndGlyphs">W/L=500/100 μm</text><text x="98.00" y="537.80" font-size="24.00" textLength="16.98" lengthAdjust="spacingAndGlyphs">V</text><text x="115.95" y="544.30" font-size="15.49" textLength="24.36" lengthAdjust="spacingAndGlyphs">DS</text><text x="143.48" y="537.30" font-size="22.11" textLength="63.04" lengthAdjust="spacingAndGlyphs">= -20V</text><text x="312.50" y="611.60" font-size="26.33" textLength="140.94" lengthAdjust="spacingAndGlyphs">At 20 mTorr</text><text x="343.05" y="652.90" font-size="28.50" textLength="61.37" lengthAdjust="spacingAndGlyphs">50 W</text><text x="344.08" y="696.00" font-size="28.50" textLength="60.35" lengthAdjust="spacingAndGlyphs">75 W</text><text x="343.05" y="738.20" font-size="28.50" textLength="76.23" lengthAdjust="spacingAndGlyphs">100 W</text><text x="34.53" y="474.50" font-size="25.00" textLength="24.34" lengthAdjust="spacingAndGlyphs">10</text><text x="57.92" y="461.50" font-size="13.50" textLength="11.44" lengthAdjust="spacingAndGlyphs">-6</text><text x="34.53" y="533.58" font-size="25.00" textLength="24.34" lengthAdjust="spacingAndGlyphs">10</text><text x="57.92" y="520.58" font-size="13.50" textLength="11.44" lengthAdjust="spacingAndGlyphs">-7</text><text x="34.53" y="592.66" font-size="25.00" textLength="24.34" lengthAdjust="spacingAndGlyphs">10</text><text x="57.88" y="579.66" font-size="13.50" textLength="12.48" lengthAdjust="spacingAndGlyphs">-8</text><text x="34.53" y="651.74" font-size="25.00" textLength="24.34" lengthAdjust="spacingAndGlyphs">10</text><text x="57.88" y="638.74" font-size="13.50" textLength="12.48" lengthAdjust="spacingAndGlyphs">-9</text><text x="27.05" y="710.82" font-size="25.00" textLength="24.34" lengthAdjust="spacingAndGlyphs">10</text><text x="50.51" y="697.82" font-size="13.50" textLength="19.29" lengthAdjust="spacingAndGlyphs">-10</text><text x="27.05" y="769.90" font-size="25.00" textLength="24.34" lengthAdjust="spacingAndGlyphs">10</text><text x="50.51" y="756.90" font-size="13.50" textLength="19.66" lengthAdjust="spacingAndGlyphs">-11</text><text x="127.39" y="800.80" font-size="24.80" textLength="12.82" lengthAdjust="spacingAndGlyphs">0</text><text x="240.00" y="800.80" font-size="24.80" textLength="32.67" lengthAdjust="spacingAndGlyphs">-10</text><text x="362.55" y="800.80" font-size="24.80" textLength="31.58" lengthAdjust="spacingAndGlyphs">-20</text><text x="485.00" y="800.80" font-size="24.80" textLength="32.03" lengthAdjust="spacingAndGlyphs">-30</text><text x="159.93" y="839.80" font-size="30.46" textLength="207.50" lengthAdjust="spacingAndGlyphs">Gate Voltage V</text><text x="366.79" y="846.00" font-size="21.83" textLength="32.03" lengthAdjust="spacingAndGlyphs">GS</text><text x="405.02" y="840.39" font-size="31.52" textLength="42.22" lengthAdjust="spacingAndGlyphs">(V)</text><text x="274.90" y="868.40" font-size="19.06" font-weight="normal" textLength="23.14" lengthAdjust="spacingAndGlyphs">(b)</text><text transform="translate(22.80,790.01) rotate(-90)" font-size="30.27" textLength="223.47" lengthAdjust="spacingAndGlyphs">Drain Current I</text><text transform="translate(29.90,566.04) rotate(-90)" font-size="22.52" textLength="28.48" lengthAdjust="spacingAndGlyphs">DS</text><text transform="translate(21.63,527.46) rotate(-90)" font-size="32.19" textLength="60.29" lengthAdjust="spacingAndGlyphs">(μA)</text></g></svg></body></html>
